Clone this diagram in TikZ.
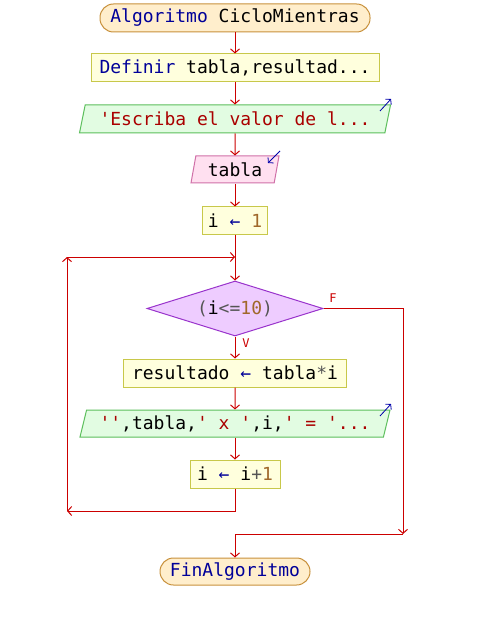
\documentclass[tikz,border=0pt]{standalone}
\usepackage{fontspec}
\newfontfamily\codefont{DejaVu Sans Mono}
\usetikzlibrary{arrows.meta,shapes.geometric}
\definecolor{termf}{HTML}{FFEECC}
\definecolor{termb}{HTML}{C8913C}
\definecolor{procf}{HTML}{FFFFDD}
\definecolor{procb}{HTML}{C8C84A}
\definecolor{outf}{HTML}{E2FCE2}
\definecolor{outb}{HTML}{5CBF5C}
\definecolor{inf}{HTML}{FFE0F0}
\definecolor{inb}{HTML}{D070A8}
\definecolor{decf}{HTML}{EECCFF}
\definecolor{decb}{HTML}{9933CC}
\definecolor{connc}{HTML}{CC0000}
\definecolor{kwc}{HTML}{000099}
\definecolor{strc}{HTML}{AA0000}
\definecolor{numc}{HTML}{A0682A}
\definecolor{opc}{HTML}{555555}
\definecolor{iconc}{HTML}{0000AA}
\newcommand\KW[1]{\textcolor{kwc}{#1}}
\newcommand\STR[1]{\textcolor{strc}{#1}}
\newcommand\NUM[1]{\textcolor{numc}{#1}}
\newcommand\OPR[1]{\textcolor{opc}{#1}}
\begin{document}
\begin{tikzpicture}[x=1pt,y=-1pt,
  base/.style={font=\codefont\fontsize{18}{20}\selectfont, inner sep=0pt, text=black, line width=1pt},
  term/.style={base, draw=termb, fill=termf, rounded corners=13.5pt, minimum height=28pt},
  proc/.style={base, draw=procb, fill=procf, minimum height=28pt},
  outp/.style={base, trapezium, trapezium left angle=68, trapezium right angle=112, trapezium stretches body, draw=outb, fill=outf, minimum height=28pt},
  inp/.style={base, trapezium, trapezium left angle=71, trapezium right angle=109, trapezium stretches body, draw=inb, fill=inf, minimum height=27pt},
  dec/.style={base, diamond, aspect=3.2, draw=decb, fill=decf, minimum width=176pt, minimum height=55pt},
  conn/.style={draw=connc, line width=1pt, -{Straight Barb[length=4pt,width=9pt]}},
  line/.style={draw=connc, line width=1pt},
  icon/.style={draw=iconc, line width=0.8pt, -{Straight Barb[length=3.5pt,width=8pt]}},
  lab/.style={font=\codefont\fontsize{12}{14}\selectfont, text=connc, inner sep=0pt}
]
\useasboundingbox[fill=white] (0,0) rectangle (492,628);

\node[term, minimum width=270pt] (start) at (235,18) {\KW{Algoritmo} CicloMientras};
\node[proc, minimum width=288pt] (def) at (235,68) {\KW{Definir} tabla,resultad...};
\node[outp, minimum width=311pt] (o1) at (235,119) {\STR{'Escriba el valor de l...}};
\node[inp, minimum width=88pt] (in) at (235,169.5) {tabla};
\node[proc, minimum width=65pt, minimum height=27pt] (i1) at (235,220.5) {i \KW{←} \NUM{1}};
\node[dec] (d) at (235,308.5) {\OPR{(}i\OPR{<=}\NUM{10}\OPR{)}};
\node[proc, minimum width=223pt] (res) at (235,373) {resultado \KW{←} tabla\OPR{*}i};
\node[outp, minimum width=310pt, minimum height=27pt] (o2) at (235,423.5) {\STR{''},tabla,\STR{' x '},i,\STR{' = '...}};
\node[proc, minimum width=90pt] (inc) at (235,474) {i \KW{←} i\OPR{+}\NUM{1}};
\node[term, minimum width=150pt, minimum height=27pt] (fin) at (235,571.5) {\KW{FinAlgoritmo}};

\node[lab] (lf) at (333,298) {F};
\node[lab] (lv) at (246,343) {V};

\coordinate (j) at (235,257);
\coordinate (bl) at (235,511);
\coordinate (ll) at (67,511);
\coordinate (lu) at (67,257);
\coordinate (fr) at (403,308.5);
\coordinate (fb) at (403,534);
\coordinate (fm) at (235,534);

\draw[conn] (start) -- (def);
\draw[conn] (def) -- (o1);
\draw[conn] (o1) -- (in);
\draw[conn] (in) -- (i1);
\draw[conn] (i1) -- (d);
\draw[conn] (d) -- (res);
\draw[conn] (res) -- (o2);
\draw[conn] (o2) -- (inc);
\draw[conn] (inc.south) -- (bl) -- (ll);
\draw[conn] (ll) -- (lu);
\draw[conn] (lu) -- (j);
\draw[conn] (d.east) -- (fr) -- (fb);
\draw[conn] (fb) -- (fm) -- (fin.north);

\draw[icon] (380,111) -- (391,99);
\draw[icon] (380,416) -- (391,404);
\draw[icon] (280,151) -- (268,163);
\end{tikzpicture}
\end{document}
